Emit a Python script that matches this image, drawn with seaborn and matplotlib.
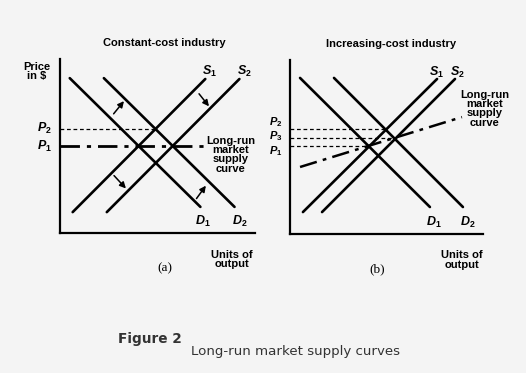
import seaborn as sns
import matplotlib.pyplot as plt

# Panel (a): constant-cost industry (quantity, price on a 0-100 scale)
a_d1_q, a_d1_p = [5, 72], [89, 15]
a_d2_q, a_d2_p = [22.5, 89.5], [89, 15]
a_s1_q, a_s1_p = [6.5, 74.5], [12, 88.5]
a_s2_q, a_s2_p = [24, 92], [12, 88.5]
a_p2_q, a_p2_p = [0, 49], [60, 60]
a_lr_q, a_lr_p = [0, 76], [50, 50]
a_price_labels = ["P$_2$", "P$_1$"]
a_price_levels = [60, 50]
# shift arrows (start -> end)
a_arrows = [((27.5, 68.5), (32.8, 75.8)),
            ((71.3, 80.0), (76.4, 72.8)),
            ((27.7, 33.0), (33.8, 25.6)),
            ((70.0, 19.8), (74.8, 27.2))]

# Panel (b): increasing-cost industry
b_d1_q, b_d1_p = [5.2, 72.5], [89.7, 15.5]
b_d2_q, b_d2_p = [22.8, 89.6], [89.7, 15.5]
b_s1_q, b_s1_p = [6.7, 76.2], [12.6, 89.1]
b_s2_q, b_s2_p = [16.6, 85.5], [12.6, 89.1]
b_p2_q, b_p2_p = [0, 49.2], [60.3, 60.3]
b_p3_q, b_p3_p = [0, 53.4], [55.2, 55.2]
b_p1_q, b_p1_p = [0, 40.4], [50.6, 50.6]
b_lr_q, b_lr_p = [5.2, 89.1], [38.5, 67.2]
b_price_labels = ["P$_2$", "P$_3$", "P$_1$"]
b_price_levels = [64.5, 56, 47.5]

BG = "#f4f4f4"
sns.set_theme(style="white")
plt.rcParams["font.family"] = ["Liberation Sans", "DejaVu Sans"]
plt.rcParams["mathtext.fontset"] = "custom"
plt.rcParams["mathtext.it"] = "Liberation Sans:italic:bold"
plt.rcParams["mathtext.rm"] = "Liberation Sans:bold"

fig = plt.figure(figsize=(5.26, 3.73), dpi=100, facecolor=BG)
ax_a = fig.add_axes([60 / 526, (373 - 233) / 373, 195 / 526, 174 / 373])
ax_b = fig.add_axes([290 / 526, (373 - 234) / 373, 193 / 526, 174 / 373])

LW = 1.9
DASH = (3, 2.2)
DASHDOT = (7, 2.5, 1.5, 2.5)


def curve(ax, q, p, **kw):
    sns.lineplot(x=q, y=p, ax=ax, sort=False, color="black", **kw)


def setup(ax):
    ax.set_facecolor(BG)
    ax.set_xlim(0, 100)
    ax.set_ylim(0, 100)
    ax.set_xticks([])
    ax.set_yticks([])
    for s in ["top", "right"]:
        ax.spines[s].set_visible(False)
    for s in ["left", "bottom"]:
        ax.spines[s].set_color("black")
        ax.spines[s].set_linewidth(1.6)


def plabel(t):
    return t.replace("P", r"$\mathit{P}$").replace("$$", "")


lbl = dict(fontsize=8, fontweight="bold", color="black")
sub = dict(fontsize=9, color="black")

# ---- panel (a)
setup(ax_a)
for q, p in [(a_d1_q, a_d1_p), (a_d2_q, a_d2_p), (a_s1_q, a_s1_p), (a_s2_q, a_s2_p)]:
    curve(ax_a, q, p, linewidth=LW)
curve(ax_a, a_p2_q, a_p2_p, linewidth=0.9, dashes=DASH)
curve(ax_a, a_lr_q, a_lr_p, linewidth=2.0, dashes=DASHDOT)
for (x0, y0), (x1, y1) in a_arrows:
    ax_a.annotate("", xy=(x1, y1), xytext=(x0, y0),
                  arrowprops=dict(arrowstyle="-|>", color="black", lw=1.1,
                                  mutation_scale=9, shrinkA=0, shrinkB=0))
for t, y in zip(a_price_labels, a_price_levels):
    ax_a.text(-4, y, plabel(t), ha="right", va="center", **sub)
ax_a.text(-12, 93, "Price\nin $", ha="center", va="center", linespacing=0.85, **lbl)
ax_a.text(76.5, 93, r"$\mathit{S}_1$", ha="center", va="center", **sub)
ax_a.text(94.5, 93, r"$\mathit{S}_2$", ha="center", va="center", **sub)
ax_a.text(73.5, 6.5, r"$\mathit{D}_1$", ha="center", va="center", **sub)
ax_a.text(92, 6.5, r"$\mathit{D}_2$", ha="center", va="center", **sub)
ax_a.text(87.5, 45, "Long-run\nmarket\nsupply\ncurve", ha="center", va="center",
          linespacing=0.9, **lbl)
ax_a.text(88, -15, "Units of\noutput", ha="center", va="center", linespacing=0.9, **lbl)
ax_a.text(54, -20, "(a)", ha="center", va="center", fontsize=9.5,
          family="Liberation Serif", color="black")
ax_a.text(53.5, 109, "Constant-cost industry", ha="center", va="center", **lbl)

# ---- panel (b)
setup(ax_b)
for q, p in [(b_d1_q, b_d1_p), (b_d2_q, b_d2_p), (b_s1_q, b_s1_p), (b_s2_q, b_s2_p)]:
    curve(ax_b, q, p, linewidth=LW)
for q, p in [(b_p2_q, b_p2_p), (b_p3_q, b_p3_p), (b_p1_q, b_p1_p)]:
    curve(ax_b, q, p, linewidth=0.9, dashes=DASH)
curve(ax_b, b_lr_q, b_lr_p, linewidth=1.8, dashes=DASHDOT)
for t, y in zip(b_price_labels, b_price_levels):
    ax_b.text(-4, y, plabel(t), ha="right", va="center", fontsize=8, color="black")
ax_b.text(76, 93, r"$\mathit{S}_1$", ha="center", va="center", **sub)
ax_b.text(86.5, 93, r"$\mathit{S}_2$", ha="center", va="center", **sub)
ax_b.text(74.5, 6.5, r"$\mathit{D}_1$", ha="center", va="center", **sub)
ax_b.text(92, 6.5, r"$\mathit{D}_2$", ha="center", va="center", **sub)
ax_b.text(101, 72, "Long-run\nmarket\nsupply\ncurve", ha="center", va="center",
          linespacing=0.9, **lbl)
ax_b.text(89, -15, "Units of\noutput", ha="center", va="center", linespacing=0.9, **lbl)
ax_b.text(45, -20, "(b)", ha="center", va="center", fontsize=9.5,
          family="Liberation Serif", color="black")
ax_b.text(52.5, 109, "Increasing-cost industry", ha="center", va="center", **lbl)

# caption
fig.text(118 / 526, 1 - 339 / 373, "Figure 2", ha="left", va="center",
         fontsize=9.8, fontweight="bold", family="DejaVu Sans", color="#333333")
fig.text(191 / 526, 1 - 351 / 373, "Long-run market supply curves", ha="left",
         va="center", fontsize=9.6, family="DejaVu Sans", color="#333333")

fig.savefig("out.png", dpi=100, facecolor=BG)
